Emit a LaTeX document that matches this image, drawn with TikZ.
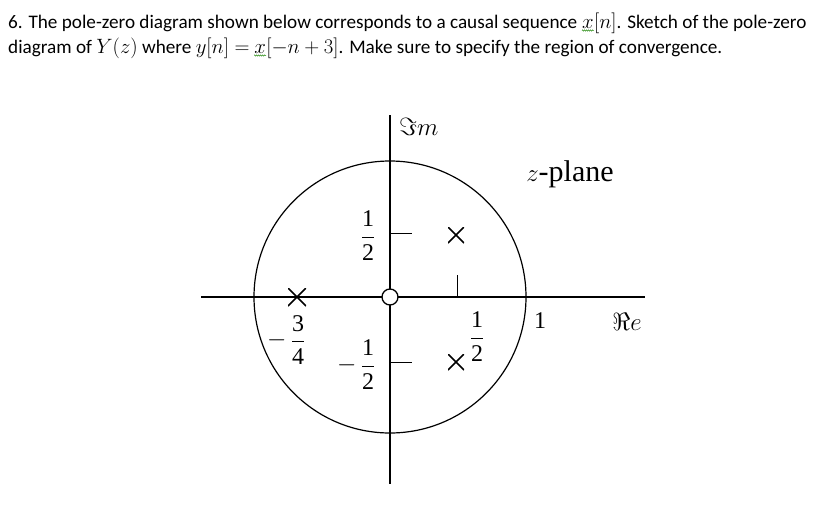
\documentclass[tikz,border=0pt]{standalone}
\usepackage{amsmath}
\usepackage{fontspec}
\setmainfont{Carlito}
\newfontfamily\figfont{Liberation Serif}
\usetikzlibrary{positioning,decorations.pathmorphing}
\definecolor{spellgreen}{RGB}{60,150,40}
\newcommand\fr[2]{$\dfrac{\hbox{\figfont #1}}{\hbox{\figfont #2}}$}
\newcommand\squig[1]{\tikz[baseline=(s.base)]{\node[inner sep=0pt] (s) {#1};
  \draw[spellgreen,line width=0.5pt,decorate,decoration={zigzag,amplitude=0.7pt,segment length=2pt}]
    ([yshift=-2.5pt]s.base west) -- ([yshift=-2.5pt]s.base east);}}
\tikzset{
  pole/.style={draw=none,minimum size=16pt,inner sep=0pt,
    path picture={\draw[line width=1.7pt]
      (path picture bounding box.south west) -- (path picture bounding box.north east)
      (path picture bounding box.north west) -- (path picture bounding box.south east);}},
  zero/.style={circle,draw,fill=white,line width=1.3pt,minimum size=16pt,inner sep=0pt},
  lbl/.style={inner sep=0pt,font=\figfont\fontsize{24}{26}\selectfont},
  qtext/.style={anchor=base west,inner sep=0pt,font=\fontsize{19.2}{23}\selectfont},
}
\begin{document}
\begin{tikzpicture}[x=1pt,y=-1pt]
\useasboundingbox (0,0) rectangle (839,509);
% question text
\node (Q1) [qtext] at (8,28)
  {6. The pole-zero diagram shown below corresponds to a causal sequence \squig{$x$}$[n]$. Sketch of the pole-zero};
\node (Q2) [qtext] at (8,53)
  {diagram of $Y(z)$ where $y[n] =$ \squig{$x$}$[-n+3]$. Make sure to specify the region of convergence.};

% axes and unit circle
\coordinate (O) at (390,297);
\coordinate (ReL) at (201,297);
\coordinate (ReR) at (645,297);
\coordinate (ImT) at (390,115);
\coordinate (ImB) at (390,484);
\draw[line width=1.3pt] (ReL) -- (ReR);
\draw[line width=1.3pt] (ImT) -- (ImB);
\draw[line width=1.2pt] (O) circle (136);

% ticks
\coordinate (tU) at (390,233);
\coordinate (tD) at (390,362);
\coordinate (tR) at (457,297);
\draw[line width=1pt] (tU) -- ++(22,0);
\draw[line width=0.7pt] (tD) -- ++(22,0);
\draw[line width=0.6pt] (tR) -- ++(0,-22);

% poles and zero
\node (P1) [pole] at (456,235) {};
\node (P2) [pole] at (456,362) {};
\node (P3) [pole,minimum size=18pt,line width=2pt] at (297,297) {};
\node (Z) [zero] at (O) {};

% labels
\node (Im) [lbl,anchor=west,font=\figfont\fontsize{28}{30}\selectfont] at (399,127) {$\Im m$};
\node (zp) [lbl,font=\figfont\fontsize{30}{32}\selectfont] at (570,174) {$z$-plane};
\node (one) [lbl] at (540,321) {1};
\node (Re) [lbl,font=\figfont\fontsize{28}{30}\selectfont] at (627,322) {$\Re e$};
\node (hU) [lbl] at (368,236) {\fr{1}{2}};
\node (hD) [lbl] at (368,365) {\fr{1}{2}};
\node (mD) [lbl,left=4pt of hD] {$-$};
\node (qL) [lbl] at (298,340) {\fr{3}{4}};
\node (mL) [lbl,left=4pt of qL] {$-$};
\node (hR) [lbl] at (477,337) {\fr{1}{2}};
\end{tikzpicture}
\end{document}
